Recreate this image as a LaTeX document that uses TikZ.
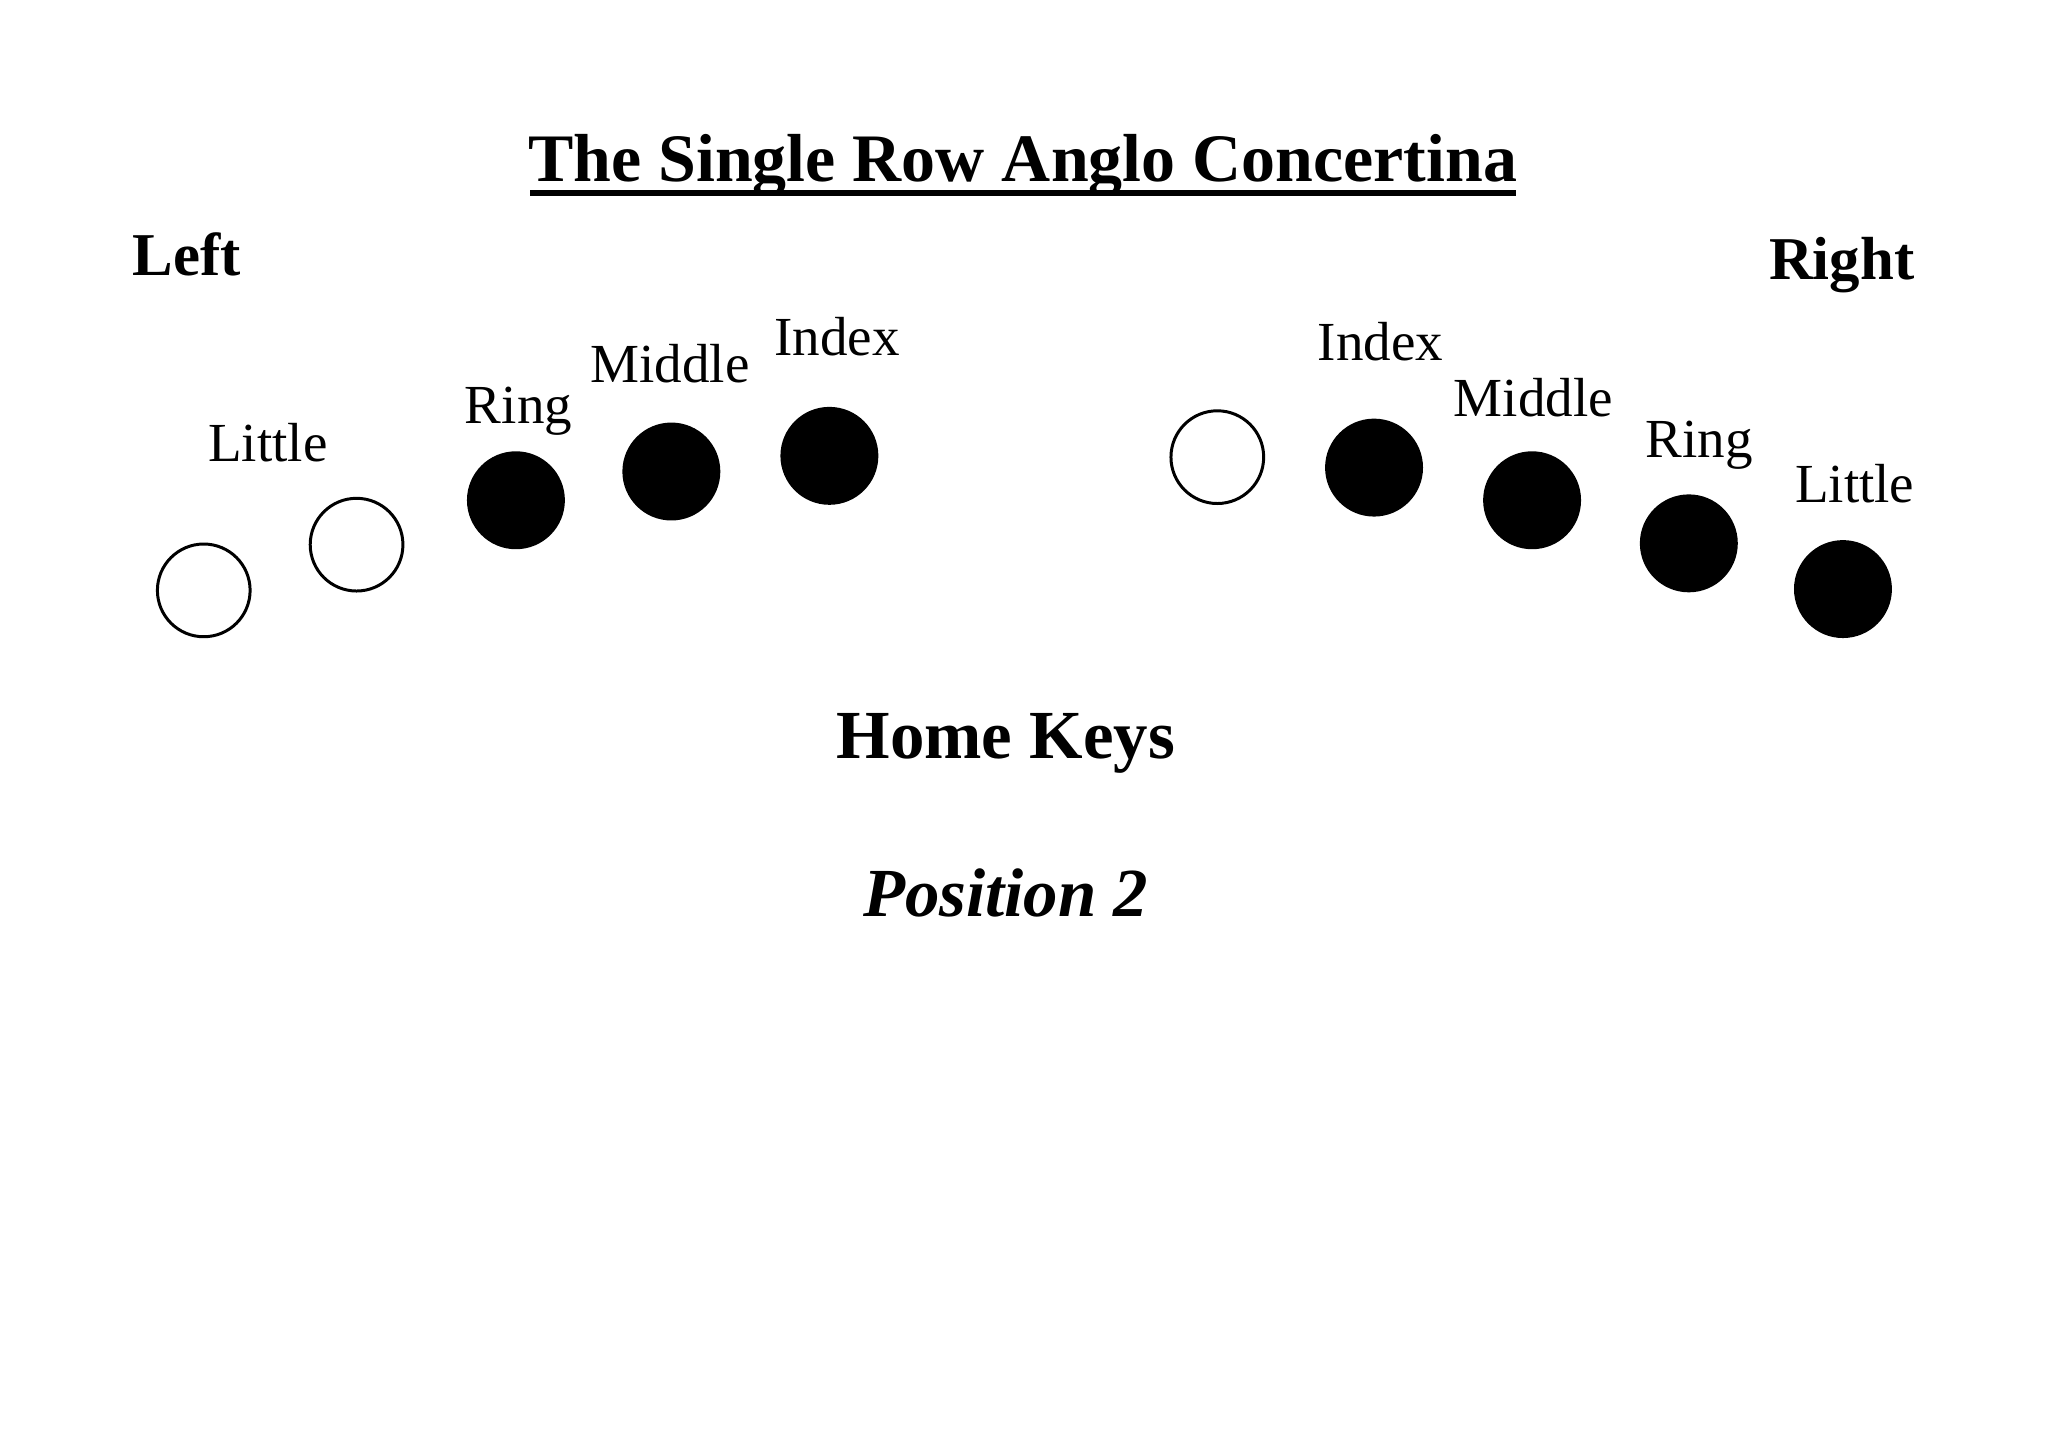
\documentclass[tikz,border=0pt]{standalone}
\usepackage{fontspec}
\setmainfont{Liberation Serif}
\usepackage{tikz}
\tikzstyle{every path}=[line width=1.3pt]
\tikzstyle{openkey}=[circle, draw=black, fill=white, minimum size=1.42cm, inner sep=0pt]
\tikzstyle{heldkey}=[circle, fill=black, minimum size=1.5cm, inner sep=0pt]
\tikzstyle{finger}=[anchor=base, inner sep=0pt, font=\fontsize{24}{28}\selectfont]
\tikzstyle{side}=[anchor=base, inner sep=0pt, font=\fontsize{26.5}{30}\selectfont\bfseries]
\tikzstyle{heading}=[anchor=base, inner sep=0pt, font=\fontsize{30}{34}\selectfont\bfseries]

\begin{document}
\begin{tikzpicture}[x=0.02cm, y=-0.02cm]
            \useasboundingbox (0, 0) rectangle (1568, 1106);
            % title
            \node[heading, font=\fontsize{29.6}{34}\selectfont\bfseries] (title) at (783, 139) {The Single Row Anglo Concertina};
            \draw[line width=2.6pt] (406, 148) -- (1161, 148);
            \node[side] (left) at (143, 211) {Left};
            \node[side] (right) at (1410, 214) {Right};
            % left hand
            \node[openkey] (llittle) at (156, 452) {};
            \node[openkey] (lring0) at (273, 417) {};
            \node[heldkey] (lring) at (395, 383) {};
            \node[heldkey] (lmiddle) at (514, 361) {};
            \node[heldkey] (lindex) at (635, 349) {};
            \node[finger] (tlittle) at (205, 353) {Little};
            \node[finger] (tring) at (397, 324) {Ring};
            \node[finger] (tmiddle) at (513, 293) {Middle};
            \node[finger] (tindex) at (641, 272) {Index};
            % right hand
            \node[openkey] (rthumb) at (932, 350) {};
            \node[heldkey] (rindex) at (1052, 358) {};
            \node[heldkey] (rmiddle) at (1173, 383) {};
            \node[heldkey] (rring) at (1293, 416) {};
            \node[heldkey] (rlittle) at (1411, 451) {};
            \node[finger] (sindex) at (1057, 276) {Index};
            \node[finger] (smiddle) at (1174, 319) {Middle};
            \node[finger] (sring) at (1301, 350) {Ring};
            \node[finger] (slittle) at (1420, 385) {Little};
            % captions
            \node[heading] (home) at (770, 581) {Home Keys};
            \node[heading, font=\fontsize{30}{34}\selectfont\bfseries\itshape] (position) at (770, 702) {Position 2};
        \end{tikzpicture}
\end{document}
